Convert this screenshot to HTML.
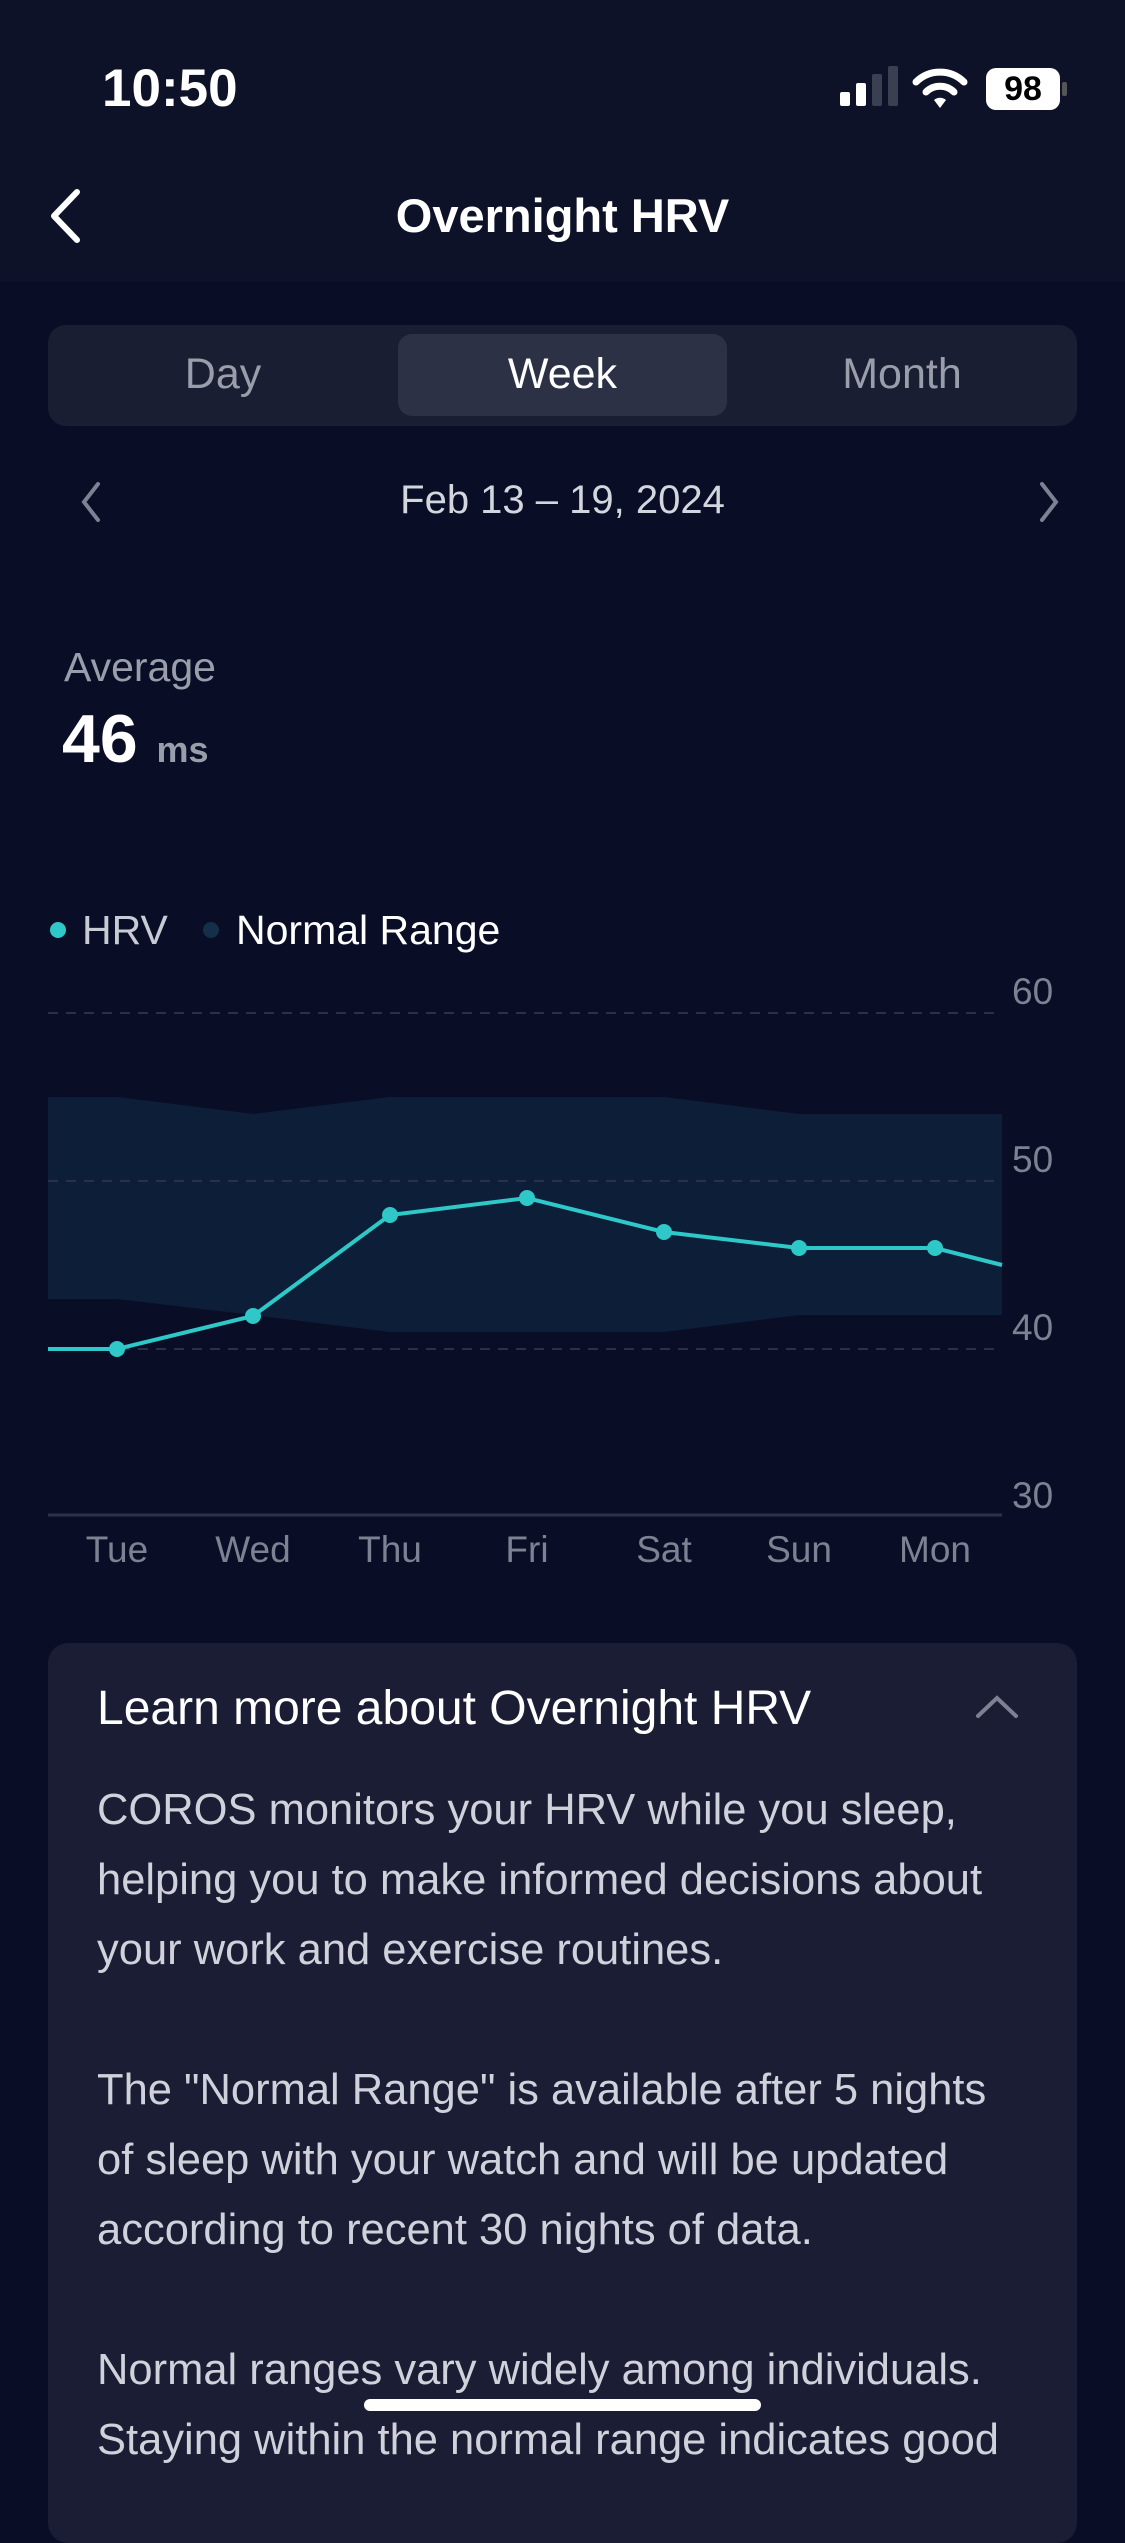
<!DOCTYPE html>
<html><head><meta charset="utf-8"><style>
*{margin:0;padding:0;box-sizing:border-box}
body{width:1125px;height:2436px;background:#090e26;font-family:"Liberation Sans",sans-serif;color:#fff;position:relative;overflow:hidden}
.a{position:absolute;white-space:nowrap}
</style></head><body>
<div class="a" style="left:0;top:0;width:1125px;height:282px;background:#0d1229"></div>
<div class="a" style="left:102px;top:58px;font-size:53px;font-weight:bold">10:50</div>
<div class="a" style="left:840px;top:92px;width:10px;height:14px;background:#fff;border-radius:2px"></div>
<div class="a" style="left:856px;top:83px;width:10px;height:23px;background:#fff;border-radius:2px"></div>
<div class="a" style="left:872px;top:74px;width:10px;height:32px;background:#3a3f52;border-radius:2px"></div>
<div class="a" style="left:888px;top:66px;width:10px;height:40px;background:#3a3f52;border-radius:2px"></div>
<svg class="a" style="left:912px;top:66px" width="56" height="44" viewBox="0 0 56 44"><path d="M4 16 A34 34 0 0 1 52 16" stroke="#fff" stroke-width="7" fill="none" stroke-linecap="round"/><path d="M14 26 A20 20 0 0 1 42 26" stroke="#fff" stroke-width="7" fill="none" stroke-linecap="round"/><path d="M22 34 L28 42 L34 34 A9 9 0 0 0 22 34Z" fill="#fff"/></svg>
<div class="a" style="left:986px;top:68px;width:74px;height:42px;background:#fff;border-radius:10px;color:#000;font-weight:bold;font-size:34px;text-align:center;line-height:42px">98</div>
<div class="a" style="left:1062px;top:82px;width:5px;height:14px;background:#555;border-radius:2px"></div>
<svg class="a" style="left:44px;top:186px" width="40" height="60"><path d="M33 6 L10 30 L33 54" stroke="#fff" stroke-width="6" fill="none" stroke-linecap="round" stroke-linejoin="round"/></svg>
<div class="a" style="left:0;width:1125px;top:188px;text-align:center;font-size:47px;font-weight:bold">Overnight HRV</div>
<div class="a" style="left:48px;top:325px;width:1029px;height:101px;background:#1a1e33;border-radius:18px"></div>
<div class="a" style="left:398px;top:334px;width:329px;height:82px;background:#2c3146;border-radius:14px"></div>
<div class="a" style="left:48px;top:350px;width:350px;text-align:center;font-size:43px;color:#9a9eab">Day</div>
<div class="a" style="left:398px;top:350px;width:329px;text-align:center;font-size:43px;color:#fff">Week</div>
<div class="a" style="left:727px;top:350px;width:350px;text-align:center;font-size:43px;color:#9a9eab">Month</div>
<svg class="a" style="left:76px;top:480px" width="30" height="44"><path d="M22 4 L8 22 L22 40" stroke="#7d8192" stroke-width="4" fill="none" stroke-linecap="round"/></svg>
<svg class="a" style="left:1034px;top:480px" width="30" height="44"><path d="M8 4 L22 22 L8 40" stroke="#7d8192" stroke-width="4" fill="none" stroke-linecap="round"/></svg>
<div class="a" style="left:0;width:1125px;top:478px;text-align:center;font-size:40px;color:#d4d6de">Feb 13 – 19, 2024</div>
<div class="a" style="left:64px;top:644px;font-size:41px;color:#9a9eab">Average</div>
<div class="a" style="left:62px;top:700px;font-size:68px;font-weight:bold;font-family:'Liberation Sans Narrow','Liberation Sans',sans-serif">46 <span style="font-size:36px;color:#9a9eab">ms</span></div>
<svg class="a" style="left:0;top:880px" width="1125" height="720">
<g transform="translate(0,-880)">
<circle cx="58" cy="930" r="8" fill="#2ec8c8"/>
<text x="82" y="944" font-size="41" fill="#c8cad4" font-family="Liberation Sans">HRV</text>
<circle cx="211" cy="930" r="8" fill="#143048"/>
<text x="236" y="944" font-size="41" fill="#fff" font-family="Liberation Sans">Normal Range</text>
<polygon points="48,1097 117,1097 253,1114 390,1097 527,1097 664,1097 799,1114 935,1114 1002,1114 1002,1315 935,1315 799,1315 664,1332 527,1332 390,1332 253,1315 117,1299 48,1299" fill="#0d1f38"/>
<g stroke="#2a3048" stroke-width="2" stroke-dasharray="10 8">
<line x1="48" y1="1013" x2="1000" y2="1013"/><line x1="48" y1="1181" x2="1000" y2="1181"/><line x1="48" y1="1349" x2="1000" y2="1349"/></g>
<line x1="48" y1="1515" x2="1002" y2="1515" stroke="#2c3146" stroke-width="3"/>
<g font-size="37" fill="#7d8192" font-family="Liberation Sans">
<text x="1012" y="1004">60</text><text x="1012" y="1172">50</text><text x="1012" y="1340">40</text><text x="1012" y="1508">30</text></g>
<polyline points="48,1332 117,1332 253,1299 390,1198 527,1181 664,1215 799,1231 935,1231 1002,1248" transform="translate(0,17)" fill="none" stroke="#2ec8c8" stroke-width="4"/>
<g fill="#2ec8c8"><circle cx="117" cy="1349" r="8"/><circle cx="253" cy="1316" r="8"/><circle cx="390" cy="1215" r="8"/><circle cx="527" cy="1198" r="8"/><circle cx="664" cy="1232" r="8"/><circle cx="799" cy="1248" r="8"/><circle cx="935" cy="1248" r="8"/></g>
<g font-size="37" fill="#7d8192" text-anchor="middle" font-family="Liberation Sans">
<text x="117" y="1562">Tue</text><text x="253" y="1562">Wed</text><text x="390" y="1562">Thu</text><text x="527" y="1562">Fri</text><text x="664" y="1562">Sat</text><text x="799" y="1562">Sun</text><text x="935" y="1562">Mon</text></g>
</g></svg>
<div class="a" style="left:48px;top:1643px;width:1029px;height:900px;background:#1a1d33;border-radius:20px"></div>
<div class="a" style="left:97px;top:1681px;font-size:48px;color:#fff">Learn more about Overnight HRV</div>
<svg class="a" style="left:974px;top:1692px" width="46" height="30"><path d="M4 24 L23 6 L42 24" stroke="#7d8192" stroke-width="4" fill="none" stroke-linecap="round"/></svg>
<div class="a" style="left:97px;top:1775px;font-size:43.5px;line-height:70px;color:#cfd2db;white-space:normal;width:1000px">COROS monitors your HRV while you sleep,<br>helping you to make informed decisions about<br>your work and exercise routines.<br><br>The "Normal Range" is available after 5 nights<br>of sleep with your watch and will be updated<br>according to recent 30 nights of data.<br><br>Normal ranges vary widely among individuals.<br>Staying within the normal range indicates good</div>
<div class="a" style="left:364px;top:2399px;width:397px;height:12px;background:#fff;border-radius:6px"></div>
</body></html>
